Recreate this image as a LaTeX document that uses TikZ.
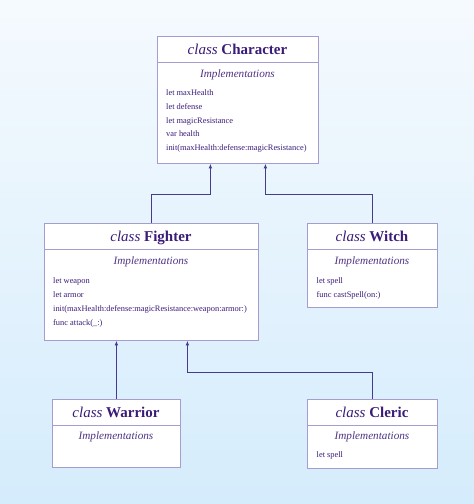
\documentclass[tikz,border=0pt]{standalone}
\usepackage{fontspec}
\setmainfont{Liberation Serif}
\usetikzlibrary{arrows.meta}

\definecolor{txt}{HTML}{3B1C78}
\definecolor{frame}{HTML}{A59CD2}
\definecolor{wire}{HTML}{463C8C}
\definecolor{bgtop}{HTML}{F5FAFE}
\definecolor{bgbot}{HTML}{D5ECFC}

\begin{document}
\begin{tikzpicture}[x=1pt, y=-1pt,
  classbox/.style={draw=frame, line width=0.8pt, fill=white, anchor=north west, inner sep=0pt},
  title/.style={anchor=base, text=txt, font=\fontsize{15}{18}\selectfont, inner sep=0pt},
  impl/.style={anchor=base, text=txt!90, font=\itshape\fontsize{11.2}{13}\selectfont, inner sep=0pt},
  member/.style={anchor=base west, text=txt, font=\fontsize{8.4}{10}\selectfont, inner sep=0pt},
  divider/.style={draw=frame, line width=0.8pt},
  inherit/.style={draw=wire, line width=0.8pt, -{Latex[length=4.5pt,width=3.6pt]}}]

% background
\fill[top color=bgtop, bottom color=bgbot] (0,0) rectangle (474,504);
\useasboundingbox (0,0) rectangle (474,504);

% Character
\node[classbox, minimum width=161pt, minimum height=127pt] (character) at (157,36) {};
\draw[divider] (character.north west) ++(0,26.5) -- ++(161,0);
\node[title] (chartitle) at (237.5,54.5) {\textit{class} \textbf{Character}};
\node[impl] (charimpl) at (237.5,77) {Implementations};
\node[member] at (166,95.5) {let maxHealth};
\node[member] at (166,109.25) {let defense};
\node[member] at (166,123) {let magicResistance};
\node[member] at (166,136.75) {var health};
\node[member] at (166,150.5) {init(maxHealth:defense:magicResistance)};

% Fighter
\node[classbox, minimum width=214pt, minimum height=117pt] (fighter) at (44,223) {};
\draw[divider] (fighter.north west) ++(0,26.5) -- ++(214,0);
\node[title] (fightertitle) at (151,241.5) {\textit{class} \textbf{Fighter}};
\node[impl] (fighterimpl) at (151,264) {Implementations};
\node[member] at (53,283) {let weapon};
\node[member] at (53,297) {let armor};
\node[member] at (53,311) {init(maxHealth:defense:magicResistance:weapon:armor:)};
\node[member] at (53,325) {func attack(\_:)};

% Witch
\node[classbox, minimum width=130pt, minimum height=84pt] (witch) at (307,223) {};
\draw[divider] (witch.north west) ++(0,26.5) -- ++(130,0);
\node[title] (witchtitle) at (372,241.5) {\textit{class} \textbf{Witch}};
\node[impl] (witchimpl) at (372,264) {Implementations};
\node[member] at (316.5,283) {let spell};
\node[member] at (316.5,297) {func castSpell(on:)};

% Warrior
\node[classbox, minimum width=128pt, minimum height=68.5pt] (warrior) at (52,398.5) {};
\draw[divider] (warrior.north west) ++(0,26.5) -- ++(128,0);
\node[title] (warriortitle) at (116,417) {\textit{class} \textbf{Warrior}};
\node[impl] (warriorimpl) at (116,439.5) {Implementations};

% Cleric
\node[classbox, minimum width=130pt, minimum height=69pt] (cleric) at (307,398.5) {};
\draw[divider] (cleric.north west) ++(0,26.5) -- ++(130,0);
\node[title] (clerictitle) at (372,417) {\textit{class} \textbf{Cleric}};
\node[impl] (clericimpl) at (372,439.5) {Implementations};
\node[member] at (316.5,457.5) {let spell};

% inheritance
\draw[inherit] (fighter.north) -- ++(0,-29) -| ([xshift=-27.5pt]character.south);
\draw[inherit] (witch.north) -- ++(0,-29) -| ([xshift=27.5pt]character.south);
\draw[inherit] (warrior.north) -- (warrior.north |- fighter.south);
\draw[inherit] (cleric.north) -- ++(0,-26) -| ([xshift=36pt]fighter.south);
\end{tikzpicture}
\end{document}
